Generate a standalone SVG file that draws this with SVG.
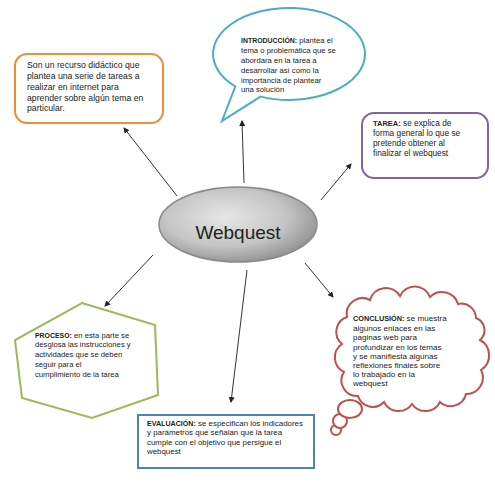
<svg xmlns="http://www.w3.org/2000/svg" width="495" height="495" viewBox="0 0 495 495">
<style>
text{font-family:"Liberation Sans",Arial,sans-serif;fill:#222}
.b{font-weight:bold;font-size:0.9em}
.c{stroke:#333;stroke-width:1;fill:none;marker-end:url(#ah)}
.box{fill:#fff;stroke-width:2}
</style>
<defs>
<marker id="ah" markerWidth="6" markerHeight="6" refX="5" refY="3" orient="auto" markerUnits="userSpaceOnUse">
<path d="M0,0 L6,3 L0,6 z" fill="#222"/>
</marker>
<radialGradient id="g" cx="0.42" cy="0.4" r="0.65">
<stop offset="0" stop-color="#e6e6e6"/>
<stop offset="0.6" stop-color="#c4c4c4"/>
<stop offset="1" stop-color="#8e8e8e"/>
</radialGradient>
</defs>
<rect width="495" height="495" fill="#fff"/>
<g id="connectors">
<line class="c" x1="177" y1="196" x2="124" y2="128"/>
<line class="c" x1="244" y1="183" x2="242" y2="121"/>
<line class="c" x1="321" y1="200" x2="351" y2="164"/>
<line class="c" x1="305" y1="263" x2="333" y2="297"/>
<line class="c" x1="153" y1="255" x2="105" y2="306"/>
<line class="c" x1="247" y1="270" x2="231" y2="402"/>
</g>
<g id="definicion">
<rect class="box" x="15" y="54" width="148" height="69" rx="12" stroke="#ED8E34"/>
<g font-size="8.7">
<text x="27" y="68">Son un recurso didáctico que</text>
<text x="27" y="79">plantea una serie de tareas a</text>
<text x="27" y="90">realizar en internet para</text>
<text x="27" y="101">aprender sobre algún tema en</text>
<text x="27" y="111">particular.</text>
</g>
</g>
<g id="introduccion">
<path class="box" stroke="#4BACC6" d="M235.3,86.5 A76,46 0 1 1 260.5,96.6 L222,121 Z"/>
<g font-size="7.7">
<text x="241" y="43"><tspan class="b">INTRODUCCIÓN:</tspan> plantea el</text>
<text x="241" y="53">tema o problemática que se</text>
<text x="241" y="63">abordara en la tarea a</text>
<text x="241" y="73">desarrollar así como la</text>
<text x="241" y="83">importancia de plantear</text>
<text x="241" y="92">una solución</text>
</g>
</g>
<g id="tarea">
<rect class="box" x="362" y="113" width="126" height="65" rx="12" stroke="#8064A2"/>
<g font-size="8.3">
<text x="373" y="126"><tspan class="b">TAREA:</tspan> se explica de</text>
<text x="373" y="136">forma general lo que se</text>
<text x="373" y="146">pretende obtener al</text>
<text x="373" y="156">finalizar el webquest</text>
</g>
</g>
<g id="webquest">
<ellipse cx="238" cy="224.5" rx="79" ry="37.5" fill="url(#g)" stroke="#8a8a8a" stroke-width="1.5"/>
<text x="238" y="239" font-size="19" text-anchor="middle">Webquest</text>
</g>
<g id="conclusion">
<g class="box" stroke="#C0504D">
<circle cx="336" cy="430" r="5"/>
<circle cx="340" cy="421" r="7"/>
<ellipse cx="350" cy="409" rx="12" ry="9"/>
<path d="M480,340 A17.4,17.4 0 0 1 481,370 A16.4,16.4 0 0 1 466,394 A15.8,15.8 0 0 1 440,402 A16.3,16.3 0 0 1 412,404 A16.3,16.3 0 0 1 384,402 A15.5,15.5 0 0 1 358,396 A15.5,15.5 0 0 1 344,372 A16.2,16.2 0 0 1 342,344 A15.7,15.7 0 0 1 347,317 A15.8,15.8 0 0 1 370,300 A16.5,16.5 0 0 1 400,296 A16.2,16.2 0 0 1 430,297 A16.8,16.8 0 0 1 458,304 A14.8,14.8 0 0 1 476,318 A13,13 0 0 1 480,340 Z"/>
</g>
<g font-size="8.1">
<text x="353" y="321"><tspan class="b">CONCLUSIÓN:</tspan> se muestra</text>
<text x="353" y="331">algunos enlaces en las</text>
<text x="353" y="340">paginas web para</text>
<text x="353" y="350">profundizar en los temas</text>
<text x="353" y="359">y se manifiesta algunas</text>
<text x="353" y="368">reflexiones finales sobre</text>
<text x="353" y="377">lo trabajado en la</text>
<text x="353" y="386">webquest</text>
</g>
</g>
<g id="proceso">
<polygon class="box" stroke="#9BBB59" points="82,303 155,325 158,395 92,418 22,398 15,340"/>
<g font-size="7.7">
<text x="35" y="338"><tspan class="b">PROCESO:</tspan> en esta parte se</text>
<text x="35" y="347">desglosa las instrucciones y</text>
<text x="35" y="357">actividades que se deben</text>
<text x="35" y="367">seguir para el</text>
<text x="35" y="377">cumplimiento de la tarea</text>
</g>
</g>
<g id="evaluacion">
<rect class="box" x="138" y="415" width="176" height="53" stroke="#4F81BD"/>
<g font-size="7.9">
<text x="147" y="426"><tspan class="b">EVALUACIÓN:</tspan> se especifican los indicadores</text>
<text x="147" y="435">y parámetros que señalan que la tarea</text>
<text x="147" y="445">cumple con el objetivo que persigue el</text>
<text x="147" y="454">webquest</text>
</g>
</g>
</svg>
